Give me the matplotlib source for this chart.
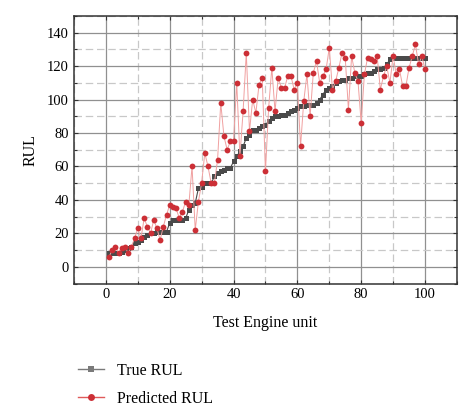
import numpy as np
import matplotlib
matplotlib.use("Agg")
from matplotlib import pyplot as plt
from matplotlib.ticker import MultipleLocator

units = np.arange(1, 101)

true_rul = [
    8, 8, 8, 8, 9, 10, 11, 12, 14, 15,
    16, 18, 19, 20, 20, 21, 21, 21, 21, 26,
    28, 28, 28, 28, 29, 34, 37, 38, 47, 48,
    50, 50, 50, 54, 56, 57, 58, 59, 59, 63,
    66, 69, 72, 77, 79, 82, 82, 83, 84, 85,
    87, 89, 90, 90, 91, 91, 92, 93, 94, 95,
    96, 96, 97, 97, 97, 98, 100, 103, 106, 107,
    108, 110, 111, 112, 112, 113, 113, 114, 114, 114,
    115, 116, 116, 117, 118, 118, 119, 121, 124, 125,
    125, 125, 125, 125, 125, 125, 125, 125, 125, 125,
]

pred_rul = [
    6, 10, 12, 8, 11, 12, 8, 12, 17, 23,
    17, 29, 24, 20, 28, 23, 16, 24, 31, 37,
    36, 35, 29, 33, 39, 37, 60, 22, 39, 50,
    68, 60, 50, 50, 64, 98, 78, 70, 75, 75,
    110, 66, 93, 128, 81, 100, 92, 109, 113, 57,
    95, 119, 93, 113, 107, 107, 114, 114, 106, 110,
    72, 99, 115, 90, 116, 123, 110, 114, 118, 131,
    106, 111, 119, 128, 125, 94, 126, 116, 111, 86,
    115, 125, 124, 123, 126, 106, 114, 120, 110, 126,
    115, 118, 108, 108, 119, 126, 133, 121, 126, 118,
]

plt.rcParams["font.family"] = ["Liberation Serif", "DejaVu Serif"]
plt.rcParams["font.size"] = 10.5

fig = plt.figure(figsize=(4.74, 4.2), dpi=100)
ax = fig.add_axes([0.156, 0.325, 0.808, 0.637])

ax.plot(units, true_rul, color="#4a4a4a", linewidth=0.8, marker="s",
        markersize=3.6, markeredgewidth=0, label="True RUL", zorder=3)
ax.plot(units, pred_rul, color="#f0a0a0", linewidth=0.7, marker="o",
        markersize=4.2, markerfacecolor="#cc2f36", markeredgewidth=0,
        label="Predicted RUL", zorder=4)

ax.set_xlim(-10, 110)
ax.set_ylim(-10, 150)
ax.xaxis.set_major_locator(MultipleLocator(20))
ax.xaxis.set_minor_locator(MultipleLocator(10))
ax.yaxis.set_major_locator(MultipleLocator(20))
ax.yaxis.set_minor_locator(MultipleLocator(10))
ax.grid(which="major", color="#909090", linewidth=0.9, linestyle="-")
ax.grid(which="minor", color="#c8c8c8", linewidth=0.9, linestyle=(0, (6, 3)))
ax.set_axisbelow(True)
ax.tick_params(which="both", direction="in", top=True, right=True,
               length=3, width=0.8, color="#333333")
ax.tick_params(which="minor", length=2)
for s in ax.spines.values():
    s.set_linewidth(1.1)
    s.set_color("#333333")

ax.set_xlabel("Test Engine unit", fontsize=11.5, labelpad=10)
ax.set_ylabel("RUL", fontsize=11.5, labelpad=6)

handles, labels = ax.get_legend_handles_labels()
handles[0] = plt.Line2D([], [], color="#7a7a7a", linewidth=1.0, marker="s",
                        markersize=4.5, markeredgewidth=0)
handles[1] = plt.Line2D([], [], color="#e05a5a", linewidth=1.0, marker="o",
                        markersize=5, markerfacecolor="#cc2f36",
                        markeredgewidth=0)
fig.legend(handles, labels, loc="upper left", bbox_to_anchor=(0.135, 0.17),
           frameon=False, fontsize=11.5, handlelength=1.6, handletextpad=0.8,
           labelspacing=0.75)

fig.savefig("out.png", dpi=100)
